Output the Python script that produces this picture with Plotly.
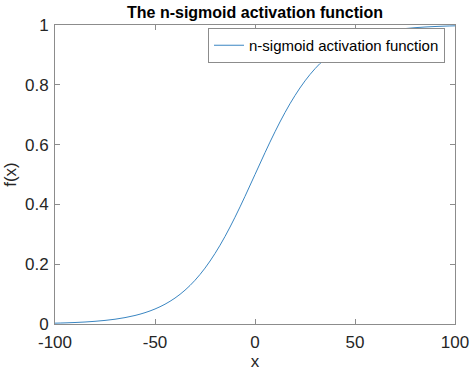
import plotly.graph_objects as go

x_vals = [-100, -95, -90, -85, -80, -75, -70, -65, -60, -55, -50, -45, -40, -35, -30,
          -25, -20, -15, -10, -5, 0, 5, 10, 15, 20, 25, 30, 35, 40, 45, 50, 55, 60,
          65, 70, 75, 80, 85, 90, 95, 100]
y_vals = [0.0028, 0.0037, 0.0050, 0.0067, 0.0090, 0.0120, 0.0160, 0.0214, 0.0285,
          0.0379, 0.0502, 0.0662, 0.0868, 0.1131, 0.1462, 0.1869, 0.2358, 0.2927,
          0.3571, 0.4270, 0.5000, 0.5730, 0.6429, 0.7073, 0.7642, 0.8131, 0.8538,
          0.8869, 0.9132, 0.9338, 0.9498, 0.9621, 0.9715, 0.9786, 0.9840, 0.9880,
          0.9910, 0.9933, 0.9950, 0.9963, 0.9972]
series_name = "n-sigmoid activation function"
title_text = "The n-sigmoid activation function"
x_ticks = [-100, -50, 0, 50, 100]
y_ticks = [0, 0.2, 0.4, 0.6, 0.8, 1]

font_family = "Liberation Sans, Arial, sans-serif"
axis_col = "#8c8c8c"
text_col = "#262626"

fig = go.Figure()
fig.add_trace(go.Scatter(x=x_vals, y=y_vals, mode="lines", name=series_name,
                         line=dict(color="#3a86c2", width=1, shape="spline"),
                         showlegend=True))

axis_common = dict(showline=True, linecolor=axis_col, linewidth=1, mirror="ticks",
                   ticks="inside", ticklen=5, tickcolor=axis_col, showgrid=False,
                   zeroline=False, automargin=False,
                   tickfont=dict(size=17, color=text_col, family=font_family))

fig.update_layout(
    width=474, height=372,
    margin=dict(l=55, r=19, t=25, b=48, autoexpand=False),
    paper_bgcolor="white", plot_bgcolor="white",
    font=dict(family=font_family, color=text_col),
    title=dict(text="<b>" + title_text + "</b>", x=(55 + 200) / 474, xanchor="center",
               y=1 - 12 / 372, yanchor="middle", font=dict(size=16, color="black")),
    xaxis=dict(range=[-100, 100], tickvals=x_ticks, ticktext=[str(v) for v in x_ticks],
               ticklabelstandoff=3,
               title=dict(text="x", font=dict(size=17, color=text_col), standoff=0),
               **axis_common),
    yaxis=dict(range=[0, 1], tickvals=y_ticks, ticktext=["0", "0.2", "0.4", "0.6", "0.8", "1"],
               ticklabelstandoff=2,
               title=dict(text="f(x)", font=dict(size=17, color=text_col), standoff=4),
               **axis_common),
    legend=dict(x=0.975, y=0.99, xanchor="right", yanchor="top",
                bgcolor="white", bordercolor=axis_col, borderwidth=1,
                font=dict(size=15, color="black", family=font_family),
                itemwidth=30, tracegroupgap=0),
)

fig.write_html("out.html", config={"displayModeBar": False},
               post_script="document.body.style.margin='0';")
